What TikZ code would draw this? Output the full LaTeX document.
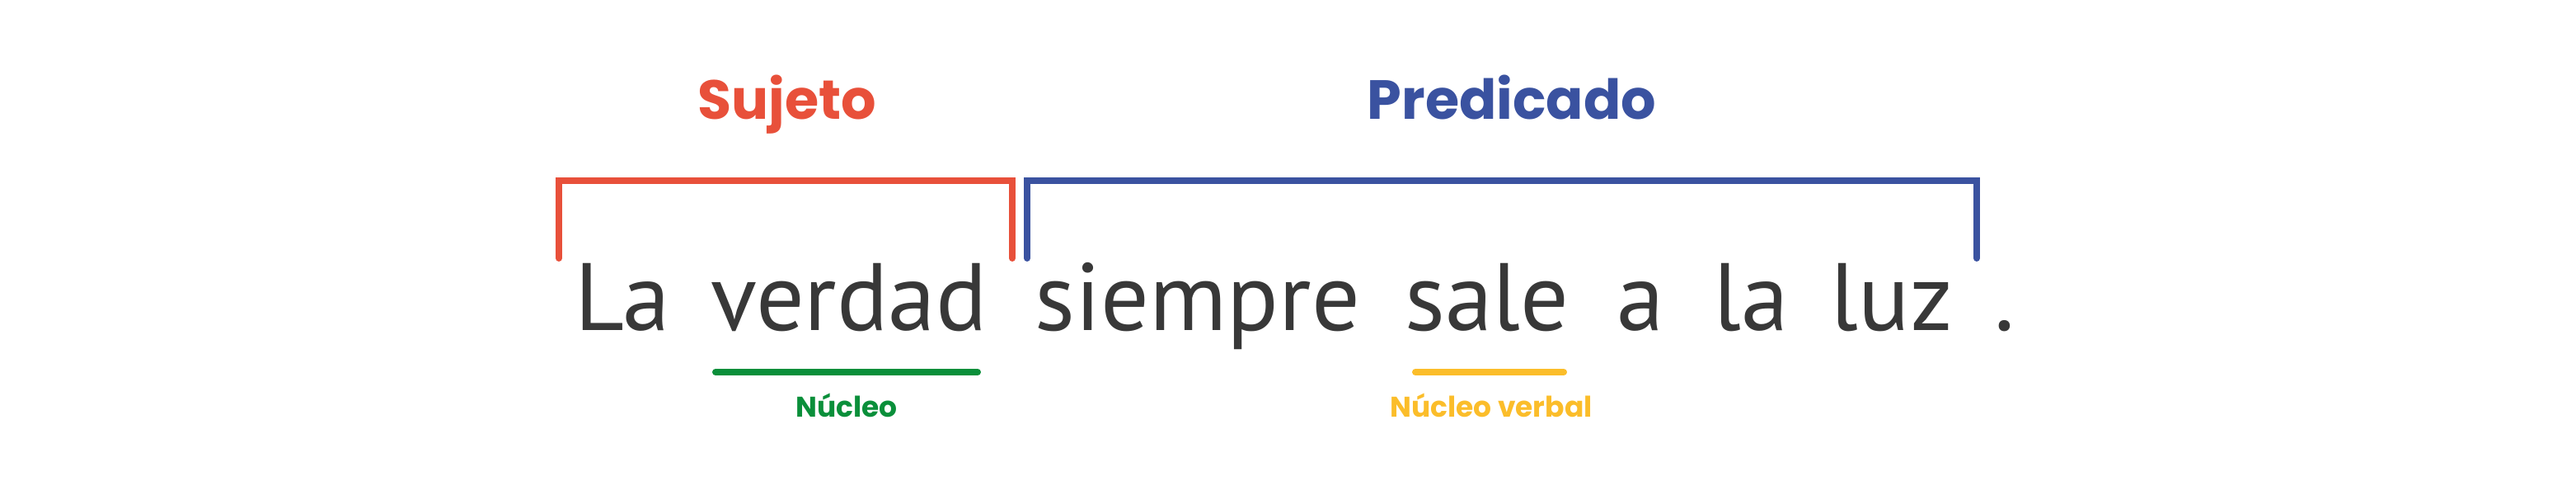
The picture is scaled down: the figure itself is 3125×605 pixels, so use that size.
\documentclass[tikz,border=0pt]{standalone}
\usepackage{fontspec}
\setmainfont{PT Sans}
\newfontfamily\headfont{Poppins}
\definecolor{ink}{HTML}{383838}
\definecolor{subj}{HTML}{E8503A}
\definecolor{pred}{HTML}{3A52A0}
\definecolor{nuc}{HTML}{0A8F3A}
\definecolor{nucverb}{HTML}{FBBD2A}
\tikzset{word/.style={anchor=base,inner sep=0pt,text=ink,font=\fontsize{33}{40}\selectfont},
head/.style={anchor=base,inner sep=0pt,font=\headfont\bfseries\fontsize{19}{23}\selectfont},
tag/.style={anchor=base,inner sep=0pt,font=\headfont\bfseries\fontsize{9.8}{12}\selectfont},
bracket/.style={line width=2.27pt,line cap=round,line join=miter},
underbar/.style={line width=2.27pt,line cap=round}}

\begin{document}
\begin{tikzpicture}[x=0.01cm,y=-0.01cm]
\useasboundingbox (0,0) rectangle (3125,605);
\node[word] (La) at (755,400) {La};
\node[word] (verdad) at (1030,400) {verdad};
\node[word] (siempre) at (1453,400) {siempre};
\node[word] (sale) at (1804,400) {sale};
\node[word] (a) at (1990,400) {a};
\node[word] (la) at (2124,400) {la};
\node[word] (luz) at (2295,400) {luz};
\node[word] (dot) at (2432,400) {.};
% brackets
\draw[bracket,subj] (678,313) coordinate (S1) -- (678,219) -- (1228,219) -- (1228,313) coordinate (S2);
\draw[bracket,pred] (1246,313) coordinate (P1) -- (1246,219) -- (2398,219) -- (2398,313) coordinate (P2);
\node[head,subj] (sujeto) at (955,144) {Sujeto};
\node[head,pred] (predicado) at (1834,144) {Predicado};
% nucleos
\draw[underbar,nuc] (868,451) coordinate (N1) -- (1186,451) coordinate (N2);
\draw[underbar,nucverb] (1717,451) coordinate (V1) -- (1897,451) coordinate (V2);
\node[tag,nuc] (nucleo) at (1027,505) {Núcleo};
\node[tag,nucverb] (nucleoverbal) at (1809,505) {Núcleo verbal};
\end{tikzpicture}
\end{document}
